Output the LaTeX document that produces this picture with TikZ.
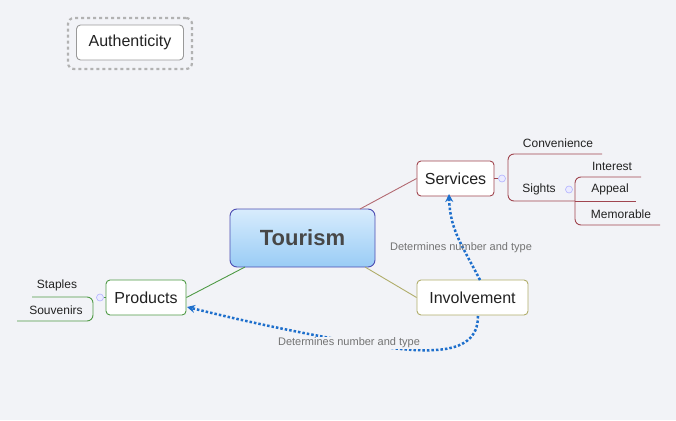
\documentclass[tikz,border=0pt]{standalone}
\usepackage{fontspec}
\setmainfont{Liberation Sans}
\usetikzlibrary{arrows.meta}
\definecolor{bg}{HTML}{F2F3F7}
\definecolor{red1}{HTML}{A0454F}
\definecolor{grn}{HTML}{4F9A45}
\definecolor{olv}{HTML}{B0AD6A}
\definecolor{blu}{HTML}{1E6FCC}
\definecolor{txt}{HTML}{222222}
\definecolor{tb1}{HTML}{D8ECFD}
\definecolor{tb2}{HTML}{99CCF5}
\begin{document}
\begin{tikzpicture}[x=1pt,y=-1pt,line width=0.9pt,
  box/.style={draw,rounded corners=4pt,fill=white,inner sep=0pt,font=\fontsize{16}{18}\selectfont,text=txt},
  leaf/.style={font=\fontsize{12}{14}\selectfont,text=txt,inner sep=0pt},
  lbl/.style={font=\fontsize{11}{13}\selectfont,text=black!55,inner sep=1pt},
  knob/.style={circle,draw=blue!30,fill=blue!8,minimum size=7pt,inner sep=0pt,line width=0.6pt},
  rel/.style={blu,line width=2.5pt,dotted,-{Stealth[length=8pt,width=8pt]}}]
\fill[bg] (0,0) rectangle (676,420);
\useasboundingbox (0,0) rectangle (676,420);
% Authenticity
\node[draw=gray!60,dashed,line width=2.2pt,rounded corners=6pt,minimum width=124pt,minimum height=51pt] (authf) at (130,43.5) {};
\node[box,draw=gray!80,minimum width=107pt,minimum height=35pt] (auth) at (130,42.5) {Authenticity};
% central
\node[draw=gray!60!blue,rounded corners=7pt,minimum width=145pt,minimum height=58pt,
  top color=tb1,bottom color=tb2,font=\fontsize{22}{24}\selectfont\bfseries,text=black!72] (tour) at (302.5,238) {Tourism};
\node[box,draw=red1,minimum width=77pt,minimum height=35pt] (serv) at (455.5,178.5) {Services};
\node[box,draw=olv,minimum width=111pt,minimum height=35pt] (inv) at (472.5,297.5) {Involvement};
\node[box,draw=grn,minimum width=80pt,minimum height=35pt] (prod) at (146,297.5) {Products};
% links
\draw[red1!80] (360,209) -- (serv.west);
\draw[olv] (365,267) -- (inv.west);
\draw[grn] (245,267) -- (prod.east);
% services branch
\node[knob] (k1) at (502,178.5) {};
\draw[red1] (serv.east) -- (k1);
\draw[red1,rounded corners=6pt] (602,154) -- (508,154) -- (508,201) -- (575,201);
\node[leaf] (conv) at (558,143) {Convenience};
\node[leaf] (sig) at (539,189.5) {Sights};
\node[knob] (k2) at (569,189.5) {};
\draw[red1,rounded corners=6pt] (641,177) -- (575,177) -- (575,225) -- (660,225);
\draw[red1] (575,201) -- (636,201);
\node[leaf] (int) at (612,166) {Interest};
\node[leaf] (app) at (610,189.5) {Appeal};
\node[leaf] (mem) at (621,214) {Memorable};
% products branch
\node[knob] (k3) at (100,297.5) {};
\draw[grn] (prod.west) -- (k3);
\draw[grn,rounded corners=6pt] (32,297) -- (93,297) -- (93,321) -- (17,321);
\node[leaf] (stap) at (57,285.5) {Staples};
\node[leaf] (souv) at (56,310.5) {Souvenirs};
% relationships
\draw[rel] (480,280) .. controls (462,245) and (450,230) .. (449,194);
\node[lbl] (l1) at (461,248) {Determines number and type};
\draw[rel] (478,316) .. controls (478,360) and (420,355) .. (330,338) .. controls (260,325) and (220,315) .. (187,307);
\node[lbl,fill=bg] (l2) at (349,343) {Determines number and type};
\end{tikzpicture}
\end{document}
